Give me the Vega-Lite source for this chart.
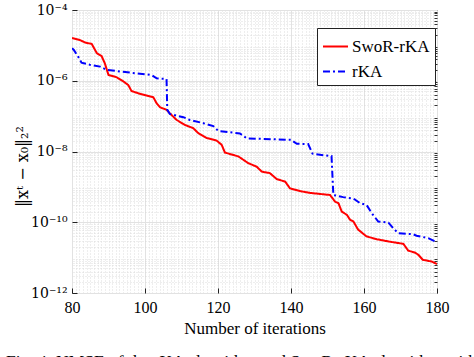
{
  "$schema": "https://vega.github.io/schema/vega-lite/v6.json",
  "width": 365,
  "height": 283,
  "autosize": "none",
  "padding": {"left": 72, "top": 10, "right": 37, "bottom": 64},
  "background": "white",
  "config": {
    "font": "Liberation Serif",
    "view": {"stroke": "black", "strokeWidth": 1},
    "axis": {"labelFont": "Liberation Serif", "titleFont": "Liberation Serif", "labelColor": "black", "titleColor": "black", "titleFontWeight": "normal"}
  },
  "title": {
    "text": "Fig. 4: NMSE of the rKA algorithm and SwoR-rKA algorithm with",
    "orient": "bottom",
    "anchor": "start",
    "dx": -8,
    "offset": 17,
    "fontSize": 17.5,
    "fontWeight": "normal",
    "font": "Liberation Serif",
    "color": "black"
  },
  "data": {
    "values": [
      {"s": "SwoR-rKA", "it": 80, "v": 1.62e-5},
      {"s": "SwoR-rKA", "it": 82.2, "v": 1.41e-5},
      {"s": "SwoR-rKA", "it": 83.6, "v": 1.2e-5},
      {"s": "SwoR-rKA", "it": 85.4, "v": 1.1e-5},
      {"s": "SwoR-rKA", "it": 86.8, "v": 6.03e-6},
      {"s": "SwoR-rKA", "it": 88.1, "v": 5.01e-6},
      {"s": "SwoR-rKA", "it": 89, "v": 3.09e-6},
      {"s": "SwoR-rKA", "it": 90, "v": 1.45e-6},
      {"s": "SwoR-rKA", "it": 92.2, "v": 1.26e-6},
      {"s": "SwoR-rKA", "it": 94.1, "v": 9.55e-7},
      {"s": "SwoR-rKA", "it": 95.4, "v": 7.59e-7},
      {"s": "SwoR-rKA", "it": 96.3, "v": 5.13e-7},
      {"s": "SwoR-rKA", "it": 98.6, "v": 4.27e-7},
      {"s": "SwoR-rKA", "it": 100.9, "v": 3.72e-7},
      {"s": "SwoR-rKA", "it": 102.3, "v": 3.39e-7},
      {"s": "SwoR-rKA", "it": 103.2, "v": 2.29e-7},
      {"s": "SwoR-rKA", "it": 104.1, "v": 1.78e-7},
      {"s": "SwoR-rKA", "it": 105.9, "v": 1.51e-7},
      {"s": "SwoR-rKA", "it": 106.8, "v": 1.2e-7},
      {"s": "SwoR-rKA", "it": 108.7, "v": 7.76e-8},
      {"s": "SwoR-rKA", "it": 111, "v": 5.62e-8},
      {"s": "SwoR-rKA", "it": 113.2, "v": 4.57e-8},
      {"s": "SwoR-rKA", "it": 114.6, "v": 3.31e-8},
      {"s": "SwoR-rKA", "it": 116.9, "v": 2.4e-8},
      {"s": "SwoR-rKA", "it": 119.6, "v": 2.04e-8},
      {"s": "SwoR-rKA", "it": 121, "v": 1.55e-8},
      {"s": "SwoR-rKA", "it": 121.9, "v": 9.33e-9},
      {"s": "SwoR-rKA", "it": 125.6, "v": 7.24e-9},
      {"s": "SwoR-rKA", "it": 128.3, "v": 4.68e-9},
      {"s": "SwoR-rKA", "it": 130.6, "v": 3.72e-9},
      {"s": "SwoR-rKA", "it": 132, "v": 2.69e-9},
      {"s": "SwoR-rKA", "it": 134.2, "v": 2.45e-9},
      {"s": "SwoR-rKA", "it": 136.1, "v": 1.66e-9},
      {"s": "SwoR-rKA", "it": 138.4, "v": 1.41e-9},
      {"s": "SwoR-rKA", "it": 139.7, "v": 9.12e-10},
      {"s": "SwoR-rKA", "it": 142.5, "v": 7.59e-10},
      {"s": "SwoR-rKA", "it": 145.2, "v": 6.76e-10},
      {"s": "SwoR-rKA", "it": 150.7, "v": 5.89e-10},
      {"s": "SwoR-rKA", "it": 152.1, "v": 3.8e-10},
      {"s": "SwoR-rKA", "it": 153, "v": 3.47e-10},
      {"s": "SwoR-rKA", "it": 153.9, "v": 2.0e-10},
      {"s": "SwoR-rKA", "it": 155.3, "v": 1.62e-10},
      {"s": "SwoR-rKA", "it": 156.2, "v": 1.17e-10},
      {"s": "SwoR-rKA", "it": 157.1, "v": 1.05e-10},
      {"s": "SwoR-rKA", "it": 158.4, "v": 6.17e-11},
      {"s": "SwoR-rKA", "it": 160.7, "v": 3.98e-11},
      {"s": "SwoR-rKA", "it": 163.5, "v": 3.31e-11},
      {"s": "SwoR-rKA", "it": 167.1, "v": 2.82e-11},
      {"s": "SwoR-rKA", "it": 170.8, "v": 2.45e-11},
      {"s": "SwoR-rKA", "it": 172.1, "v": 1.58e-11},
      {"s": "SwoR-rKA", "it": 174, "v": 1.38e-11},
      {"s": "SwoR-rKA", "it": 174.9, "v": 1.2e-11},
      {"s": "SwoR-rKA", "it": 176.1, "v": 8.71e-12},
      {"s": "SwoR-rKA", "it": 178.5, "v": 7.76e-12},
      {"s": "SwoR-rKA", "it": 180, "v": 6.61e-12},
      {"s": "rKA", "it": 80, "v": 8.32e-6},
      {"s": "rKA", "it": 80.5, "v": 7.41e-6},
      {"s": "rKA", "it": 81.7, "v": 4.79e-6},
      {"s": "rKA", "it": 82.6, "v": 3.24e-6},
      {"s": "rKA", "it": 84.9, "v": 2.82e-6},
      {"s": "rKA", "it": 87.7, "v": 2.51e-6},
      {"s": "rKA", "it": 89.5, "v": 2.04e-6},
      {"s": "rKA", "it": 93.2, "v": 1.82e-6},
      {"s": "rKA", "it": 97.7, "v": 1.62e-6},
      {"s": "rKA", "it": 101.8, "v": 1.45e-6},
      {"s": "rKA", "it": 103.2, "v": 1.17e-6},
      {"s": "rKA", "it": 105.9, "v": 1.12e-6},
      {"s": "rKA", "it": 106.1, "v": 1.51e-7},
      {"s": "rKA", "it": 106.8, "v": 1.15e-7},
      {"s": "rKA", "it": 110.5, "v": 9.33e-8},
      {"s": "rKA", "it": 112.3, "v": 7.76e-8},
      {"s": "rKA", "it": 116, "v": 6.31e-8},
      {"s": "rKA", "it": 118.7, "v": 5.25e-8},
      {"s": "rKA", "it": 120.1, "v": 3.8e-8},
      {"s": "rKA", "it": 126, "v": 3.24e-8},
      {"s": "rKA", "it": 127.9, "v": 2.34e-8},
      {"s": "rKA", "it": 140, "v": 2.14e-8},
      {"s": "rKA", "it": 141.6, "v": 1.66e-8},
      {"s": "rKA", "it": 144.7, "v": 1.62e-8},
      {"s": "rKA", "it": 145.9, "v": 8.71e-9},
      {"s": "rKA", "it": 150.7, "v": 7.41e-9},
      {"s": "rKA", "it": 151.1, "v": 7.41e-9},
      {"s": "rKA", "it": 151.6, "v": 5.89e-10},
      {"s": "rKA", "it": 154.3, "v": 5.13e-10},
      {"s": "rKA", "it": 157.1, "v": 4.68e-10},
      {"s": "rKA", "it": 158.9, "v": 3.47e-10},
      {"s": "rKA", "it": 160.7, "v": 3.09e-10},
      {"s": "rKA", "it": 162.1, "v": 1.82e-10},
      {"s": "rKA", "it": 163.9, "v": 1.05e-10},
      {"s": "rKA", "it": 166.7, "v": 9.77e-11},
      {"s": "rKA", "it": 168, "v": 6.76e-11},
      {"s": "rKA", "it": 169.4, "v": 4.9e-11},
      {"s": "rKA", "it": 173.5, "v": 4.57e-11},
      {"s": "rKA", "it": 174.4, "v": 4.17e-11},
      {"s": "rKA", "it": 177.6, "v": 3.55e-11},
      {"s": "rKA", "it": 180, "v": 2.69e-11}
    ]
  },
  "layer": [
    {
      "mark": {"type": "line", "opacity": 0, "clip": true},
      "encoding": {
        "x": {
          "field": "it", "type": "quantitative",
          "scale": {"domain": [80, 180], "nice": false, "zero": false},
          "axis": {
            "orient": "top", "title": null, "labels": false, "domain": false,
            "ticks": false, "grid": true, "gridColor": "#d4d4d4", "gridDash": [1, 2], "gridWidth": 0.8,
            "values": [81,82,83,84,85,86,87,88,89,90,91,92,93,94,95,96,97,98,99,101,102,103,104,105,106,107,108,109,110,111,112,113,114,115,116,117,118,119,121,122,123,124,125,126,127,128,129,130,131,132,133,134,135,136,137,138,139,141,142,143,144,145,146,147,148,149,150,151,152,153,154,155,156,157,158,159,161,162,163,164,165,166,167,168,169,170,171,172,173,174,175,176,177,178,179]
          }
        },
        "y": {
          "field": "v", "type": "quantitative",
          "scale": {"type": "log", "domain": [1e-12, 1e-4], "nice": false},
          "axis": {
            "orient": "right", "title": null, "labels": false, "domain": false,
            "ticks": true, "tickSize": -3, "tickColor": "#333333",
            "grid": true, "gridColor": "#d4d4d4", "gridDash": [1, 2], "gridWidth": 0.8,
            "values": [2e-12,3e-12,4e-12,5e-12,6e-12,7e-12,8e-12,9e-12,2e-11,3e-11,4e-11,5e-11,6e-11,7e-11,8e-11,9e-11,2e-10,3e-10,4e-10,5e-10,6e-10,7e-10,8e-10,9e-10,2e-9,3e-9,4e-9,5e-9,6e-9,7e-9,8e-9,9e-9,2e-8,3e-8,4e-8,5e-8,6e-8,7e-8,8e-8,9e-8,2e-7,3e-7,4e-7,5e-7,6e-7,7e-7,8e-7,9e-7,2e-6,3e-6,4e-6,5e-6,6e-6,7e-6,8e-6,9e-6,2e-5,3e-5,4e-5,5e-5,6e-5,7e-5,8e-5,9e-5]
          }
        }
      }
    },
    {
      "mark": {"type": "line", "strokeWidth": 2, "clip": true},
      "encoding": {
        "x": {
          "field": "it", "type": "quantitative",
          "scale": {"domain": [80, 180], "nice": false, "zero": false},
          "axis": {
            "orient": "bottom", "title": "Number of iterations", "titleFontSize": 17,
            "titlePadding": 5,
            "values": [80, 100, 120, 140, 160, 180],
            "labelFontSize": 16, "labelPadding": 11, "labelFlush": false,
            "domain": false, "ticks": true, "tickSize": -5, "tickColor": "#222222",
            "grid": true, "gridColor": "#e2e2e2", "gridWidth": 1
          }
        },
        "y": {
          "field": "v", "type": "quantitative",
          "scale": {"type": "log", "domain": [1e-12, 1e-4], "nice": false},
          "axis": {
            "orient": "left", "title": "‖xᵗ − x₀‖₂²", "titleFontSize": 16, "titleFont": "DejaVu Serif",
            "titleX": -50, "titleY": 156, "titleBaseline": "middle", "titleAngle": -90,
            "values": [1e-12, 1e-10, 1e-8, 1e-6, 1e-4],
            "labelExpr": "'10' + replace(replace(replace(replace(replace(replace(replace(toString(round(log(datum.value)/LN10)), '-', '⁻'), '0', '⁰'), '1', '¹'), '2', '²'), '4', '⁴'), '6', '⁶'), '8', '⁸')",
            "labelFont": "DejaVu Serif",
            "labelFontSize": 14, "labelPadding": 10, "labelFlush": false,
            "domain": false, "ticks": true, "tickSize": -5, "tickColor": "#222222",
            "grid": true, "gridColor": "#e2e2e2", "gridWidth": 1
          }
        },
        "color": {
          "field": "s", "type": "nominal",
          "scale": {"domain": ["SwoR-rKA", "rKA"], "range": ["#ff0000", "#0000ff"]},
          "legend": {
            "orient": "none", "legendX": 245, "legendY": 18, "title": null,
            "strokeColor": "#222222", "fillColor": "white", "padding": 5,
            "labelFontSize": 17, "labelFont": "Liberation Serif", "labelColor": "black",
            "symbolType": "stroke", "symbolSize": 625, "symbolStrokeWidth": 2,
            "labelOffset": 3, "rowPadding": 3
          }
        },
        "strokeDash": {
          "field": "s", "type": "nominal",
          "scale": {"domain": ["SwoR-rKA", "rKA"], "range": [[1, 0], [7, 3, 2, 3]]},
          "legend": {
            "orient": "none", "legendX": 245, "legendY": 18, "title": null,
            "strokeColor": "#222222", "fillColor": "white", "padding": 5,
            "labelFontSize": 17, "labelFont": "Liberation Serif", "labelColor": "black",
            "symbolType": "stroke", "symbolSize": 625, "symbolStrokeWidth": 2,
            "labelOffset": 3, "rowPadding": 3
          }
        }
      }
    }
  ],
  "resolve": {"axis": {"x": "independent", "y": "independent"}}
}
